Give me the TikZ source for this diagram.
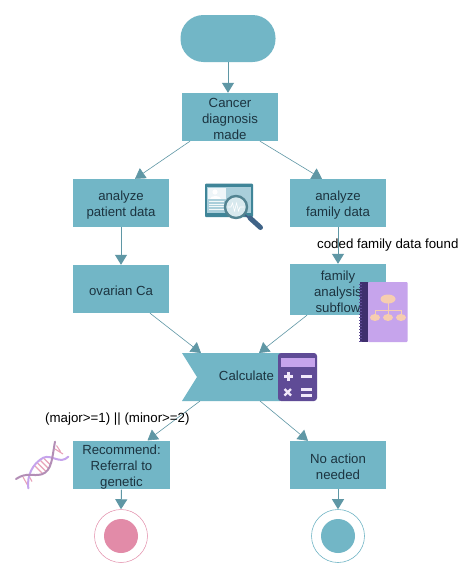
\documentclass[tikz,border=0pt]{standalone}
\usepackage{fontspec}
\setmainfont{Liberation Sans}
\usetikzlibrary{arrows.meta,calc}
\definecolor{boxfill}{HTML}{72B6C6}
\definecolor{arrowc}{HTML}{5F97A5}
\definecolor{txt}{HTML}{1C3440}
\definecolor{vio}{HTML}{C6A4EC}
\definecolor{dviolet}{HTML}{5F4B96}
\definecolor{ddviolet}{HTML}{3F2F6E}
\definecolor{peach}{HTML}{F6CDB0}
\definecolor{pinkc}{HTML}{E28BA8}
\definecolor{card}{HTML}{A9CEDA}
\definecolor{cardd}{HTML}{3F8598}
\newcommand{\firstln}{\rule{0pt}{14pt}}
\tikzset{
 x=1pt,y=-1pt,
 flowbox/.style={draw=none,fill=boxfill,minimum width=96pt,minimum height=48pt,inner sep=0pt,align=center,text=txt,font=\fontsize{13.2}{16}\selectfont},
 conn/.style={draw=arrowc,line width=0.6pt,-{Triangle[length=10pt,width=12pt,fill=arrowc]}},
 connb/.style={draw=arrowc,line width=1pt,-{Triangle[length=10pt,width=12pt,fill=arrowc]}},
 lbl/.style={text=black,font=\fontsize{13.3}{15}\selectfont,inner sep=0pt},
}
\begin{document}
\begin{tikzpicture}
\useasboundingbox (0,0) rectangle (474,573);
\fill[white] (0,0) rectangle (474,573);
% nodes
\node[fill=boxfill,rounded corners=23pt,minimum width=95pt,minimum height=47pt,inner sep=0pt] (start) at (228,38.5) {};
\node[flowbox] (cancer) at (230,117) {\firstln Cancer\\diagnosis\\made};
\node[flowbox] (patient) at (121,203) {\firstln analyze\\patient data};
\node[flowbox] (family) at (338,203) {\firstln analyze\\family data};
\node[flowbox] (ovarian) at (121,289) {\firstln ovarian Ca};
\node[flowbox,minimum height=51pt] (subflow) at (338,289.5) {\firstln family\\analysis\\subflow};
\fill[boxfill] (182,353) -- (280,353) -- (280,401) -- (182,401) -- (197,377) -- cycle;
\node[text=txt,font=\fontsize{13.2}{16}\selectfont,inner sep=0pt] (calc) at (246.5,376) {Calculate};
\node[flowbox,minimum width=97pt] (rec) at (121.5,465) {\firstln Recommend:\\Referral to\\genetic};
\node[flowbox] (noact) at (338,465) {\firstln No action\\needed};
\node[circle,draw=pinkc,line width=0.5pt,fill=white,minimum size=53pt,inner sep=0pt] (endA) at (121,536) {};
\node[circle,fill=pinkc,minimum size=34pt,inner sep=0pt] at (endA) {};
\node[circle,draw=boxfill,line width=0.6pt,fill=white,minimum size=53pt,inner sep=0pt] (endB) at (338,536) {};
\node[circle,fill=boxfill,minimum size=34pt,inner sep=0pt] at (endB) {};
\coordinate (calcTopL) at (201,353);
\coordinate (calcTopR) at (259,353);
\coordinate (calcBotL) at (200,401);
\coordinate (calcBotR) at (260,401);
% connectors
\draw[connb] (start.south) -- ($(cancer.north)+(-2,0)$);
\draw[conn] ($(cancer.south)+(-40,0)$) -- ($(patient.north)+(14,0)$);
\draw[conn] ($(cancer.south)+(30,0)$) -- ($(family.north)+(-16,0)$);
\draw[connb] (patient.south) -- (ovarian.north);
\draw[connb] (family.south) -- (subflow.north);
\draw[conn] ($(ovarian.south)+(29,0)$) -- (calcTopL);
\draw[conn] ($(subflow.south)+(-31,0)$) -- (calcTopR);
\draw[conn] (calcBotL) -- ($(rec.north)+(26,0)$);
\draw[conn] (calcBotR) -- ($(noact.north)+(-30,0)$);
\draw[connb] (rec.south) -- (endA.north);
\draw[connb] (noact.south) -- (endB.north);
% labels
\node[lbl,anchor=west] (l1) at (317,245) {coded family data found};
\node[lbl,anchor=west] (l2) at (45,419) {(major>=1) || (minor>=2)};
% magnifier icon
\fill[cardd,rounded corners=1pt] (205,183.5) rectangle (253,217);
\fill[card] (207,186.5) rectangle (251,213);
\fill[white!80!card] (208,187.5) rectangle (226,199);
\fill[white] (215,192) circle (2.6);
\fill[white] (209.5,199) .. controls (209.5,194.5) and (220.5,194.5) .. (220.5,199) -- cycle;
\foreach \yy in {201.5,204,206.5,209}{\draw[white!85!card,line width=0.7pt] (208.5,\yy) -- (224,\yy);}
\draw[ddviolet!50!cardd,line width=1.5pt] (244,214) -- (250,219);
\draw[cardd!60!ddviolet,line width=5pt,line cap=round] (250,218) -- (260.5,227.5);
\fill[white!55!card] (236,207) circle (10.5);
\draw[cardd!70!gray,line width=2.4pt] (236,207) circle (11);
\draw[white,line width=0.6pt] (228,207) -- (231,207) -- (232.5,203) -- (234.5,211) -- (236.5,203) -- (238.5,211) -- (240,207) -- (244,207);
% notebook icon
\fill[ddviolet] (360,282) rectangle (368,342);
\foreach \yy in {284,287,...,341}{\draw[dviolet,line width=0.6pt] (359,\yy) -- (362,\yy);}
\fill[vio,rounded corners=1pt] (368,282) rectangle (407.5,342);
\fill[peach] (388,299) ellipse (7.5 and 4.5);
\draw[peach,line width=0.7pt] (388,303) -- (388,310) (375,317) -- (375,310) -- (401,310) -- (401,317);
\draw[peach,line width=0.7pt] (388,310) -- (388,317);
\fill[peach] (375,317.5) ellipse (5 and 3.5);
\fill[peach] (388,317.5) ellipse (5 and 3.5);
\fill[peach] (401,317.5) ellipse (5 and 3.5);
% calculator icon
\fill[dviolet,rounded corners=3pt] (278,353) rectangle (317,401);
\fill[vio] (281,358) rectangle (314.5,367);
\fill[white!75!vio] (287,372) rectangle (289.5,381);
\fill[white!75!vio] (284,375.3) rectangle (293,377.8);
\fill[white!75!vio] (301,375.3) rectangle (312,378);
\draw[white!75!vio,line width=2.4pt] (284.5,389) -- (291,395.5) (291,389) -- (284.5,395.5);
\fill[white!75!vio] (301,388) rectangle (312,390.5);
\fill[white!75!vio] (301,394) rectangle (312,396.5);
% DNA icon
\draw[pinkc!80!white,line width=1.1pt] (23,477) -- (27.5,485) (29,476) -- (32,481.5)
 (35,466) -- (43,474) (37.5,463) -- (46,471.5) (40.5,460.5) -- (48.5,468.5) (44,458.5) -- (50.5,465)
 (55,449) -- (63,454) (56.5,445.5) -- (60.5,451.5);
\draw[vio,line width=2pt,line cap=round] (28.3,488.3) .. controls (26.7,475) and (33,463.3) .. (43.3,457.7) .. controls (52,454) and (60,465) .. (68.3,456.7);
\draw[pinkc!45!dviolet!75!white,line width=2pt,line cap=round] (16,479) .. controls (26.7,471.7) and (33,476.7) .. (41.7,474.3) .. controls (52,471) and (52,458) .. (55,441.7);
\end{tikzpicture}
\end{document}
